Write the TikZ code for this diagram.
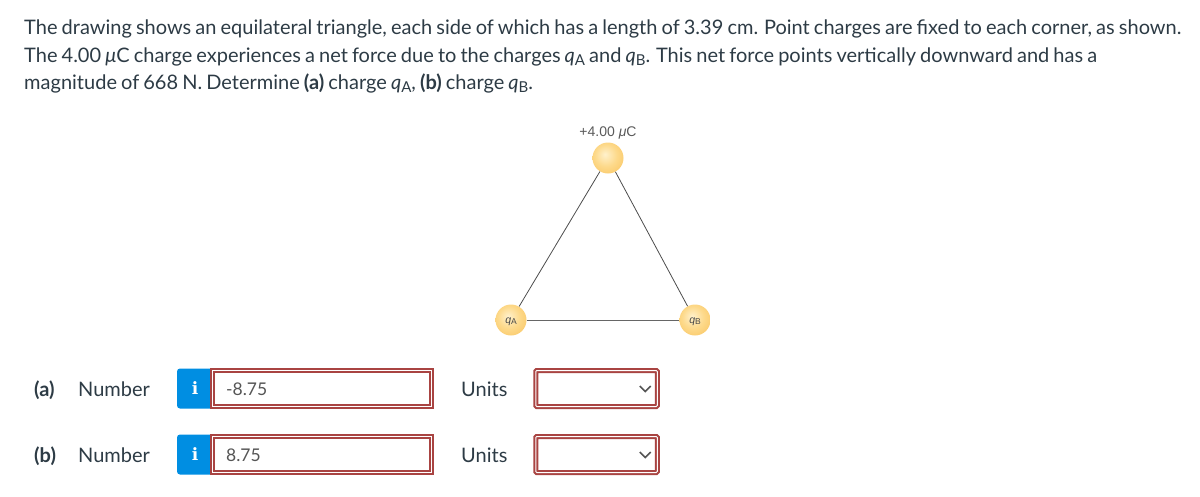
\documentclass[tikz,border=0pt]{standalone}
\usepackage{fontspec}
\usepackage{xcolor}
\setmainfont{Lato}[WordSpace=0.8]
\newfontfamily\figfont{Liberation Sans}
\newfontfamily\iconfont{DejaVu Serif}
\definecolor{bodytext}{HTML}{2D3B45}
\definecolor{fieldtext}{HTML}{555555}
\definecolor{figtext}{HTML}{5A5A5A}
\definecolor{wrongred}{HTML}{A94442}
\definecolor{infoblue}{HTML}{008EE2}
\definecolor{ballcore}{HTML}{FFF1CC}
\definecolor{ballmid}{HTML}{FDD98A}
\definecolor{ballrim}{HTML}{F8BF55}
\pgfdeclareradialshading{chargeshade}{\pgfpoint{-5bp}{6bp}}{color(0bp)=(ballcore); color(18bp)=(ballmid); color(42bp)=(ballrim); color(60bp)=(ballrim)}
\newcommand{\chargesub}[2]{\textit{#1}\raisebox{-0.3ex}{\fontsize{15}{15}\selectfont #2}}
\tikzset{
    every node/.style={text=bodytext,font=\fontsize{20}{23}\selectfont,inner sep=0pt},
    textline/.style={anchor=base west},
    chargeball/.style={circle,shading=chargeshade,minimum size=31pt},
    figlabel/.style={text=figtext,font=\figfont\fontsize{14}{16}\selectfont},
    balllabel/.style={text=figtext!80!black,font=\figfont\fontsize{10.5}{12}\selectfont},
    infobox/.style={fill=infoblue,rounded corners=3pt,minimum width=36pt,minimum height=40pt,text=white,font=\iconfont\bfseries\fontsize{17}{17}\selectfont},
    fieldbox/.style={draw=wrongred,double=white,line width=2pt,double distance=1pt,minimum width=219.5pt,minimum height=36pt},
    unitbox/.style={draw=wrongred,double=white,line width=2pt,double distance=1pt,rounded corners=1pt,minimum width=121.5pt,minimum height=36pt},
    fieldvalue/.style={anchor=base west,text=fieldtext,font=\fontsize{17.5}{22}\selectfont},
}
\begin{document}
\begin{tikzpicture}[x=1pt,y=-1pt]
            \useasboundingbox (0,0) rectangle (1200,496);

            \node (line1) at (24,34.5) [textline] {The drawing shows an equilateral triangle, each side of which has a length of 3.39 cm. Point charges are fixed to each corner, as shown.};
            \node (line2) at (24,62.5) [textline] {The 4.00 \textit{μ}C charge experiences a net force due to the charges \chargesub{q}{A} and \chargesub{q}{B}. This net force points vertically downward and has a};
            \node (line3) at (24,89.5) [textline] {magnitude of 668 N. Determine \textbf{(a)} charge \chargesub{q}{A}, \textbf{(b)} charge \chargesub{q}{B}.};

            \node (top) at (608,158) [chargeball] {};
            \node (qa) at (511,320) [chargeball] {};
            \node (qb) at (695,320) [chargeball] {};
            \draw[black!70,line width=0.8pt] (top) -- (qa) (top) -- (qb);
            \draw[black!60,line width=1pt] (qa) -- (qb);
            \node (toplabel) at (608,133) [figlabel] {+4.00 \textit{μ}C};
            \node (qalabel) at (511,322) [balllabel] {\textit{q}\raisebox{-0.2ex}{\fontsize{8.5}{8.5}\selectfont A}};
            \node (qblabel) at (695,322) [balllabel] {\textit{q}\raisebox{-0.2ex}{\fontsize{8.5}{8.5}\selectfont B}};

            % answer rows
            \node (parta) at (34,396) [textline] {\textbf{(a)}};
            \node (numa) at (78,396) [textline] {Number};
            \node (infoa) at (195,388.5) [infobox] {i};
            \node (fielda) at (322,388.5) [fieldbox,fill=white] {};
            \node (vala) at (226,395.5) [fieldvalue] {-8.75};
            \node (unita) at (461,396) [textline] {Units};
            \node (selecta) at (596.5,388.5) [unitbox,fill=white] {};
            \draw[fieldtext,line width=1.5pt] ([xshift=-18.5pt,yshift=2.5pt]selecta.east) -- ++(5.5,5.5) -- ++(5.5,-5.5);

            \node (partb) at (34,462) [textline] {\textbf{(b)}};
            \node (numb) at (78,462) [textline] {Number};
            \node (infob) at (195,454.5) [infobox] {i};
            \node (fieldb) at (322,454.5) [fieldbox,fill=white] {};
            \node (valb) at (226,461.5) [fieldvalue] {8.75};
            \node (unitb) at (461,462) [textline] {Units};
            \node (selectb) at (596.5,454.5) [unitbox,fill=white] {};
            \draw[fieldtext,line width=1.5pt] ([xshift=-18.5pt,yshift=2.5pt]selectb.east) -- ++(5.5,5.5) -- ++(5.5,-5.5);
        \end{tikzpicture}
\end{document}
